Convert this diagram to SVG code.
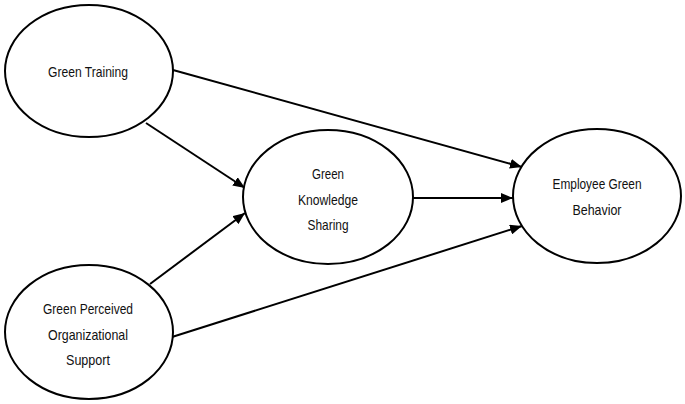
<svg xmlns="http://www.w3.org/2000/svg" width="685" height="404" viewBox="0 0 685 404">
<style>
.node{fill:#fff;stroke:#000;stroke-width:2}
.lbl{font-family:"Liberation Sans",Arial,sans-serif;font-size:15px;fill:#111;text-anchor:middle}
.edge{stroke:#000;stroke-width:2;fill:none;marker-end:url(#ah)}
</style>
<defs>
<marker id="ah" viewBox="0 0 12 10" refX="12" refY="5" markerWidth="12" markerHeight="10" markerUnits="userSpaceOnUse" orient="auto">
<path d="M0,0 L12,5 L0,10 z" fill="#000"/>
</marker>
</defs>
<g id="connectors">
<line class="edge" x1="173" y1="70" x2="522" y2="167"/>
<line class="edge" x1="146" y1="123" x2="245" y2="188"/>
<line class="edge" x1="150" y1="284" x2="245" y2="213"/>
<line class="edge" x1="172" y1="337" x2="522" y2="226"/>
<line class="edge" x1="412" y1="198" x2="513" y2="198"/>
</g>
<g id="green-training">
<ellipse class="node" cx="89" cy="71" rx="84" ry="66"/>
<text class="lbl" x="88" y="77" textLength="80" lengthAdjust="spacingAndGlyphs">Green Training</text>
</g>
<g id="green-perceived-organizational-support">
<ellipse class="node" cx="89" cy="332" rx="84" ry="67"/>
<text class="lbl" x="88" y="314" textLength="90" lengthAdjust="spacingAndGlyphs">Green Perceived</text>
<text class="lbl" x="88" y="340" textLength="80" lengthAdjust="spacingAndGlyphs">Organizational</text>
<text class="lbl" x="88" y="365" textLength="44" lengthAdjust="spacingAndGlyphs">Support</text>
</g>
<g id="green-knowledge-sharing">
<ellipse class="node" cx="328" cy="197" rx="85" ry="67"/>
<text class="lbl" x="328" y="179" textLength="32" lengthAdjust="spacingAndGlyphs">Green</text>
<text class="lbl" x="328" y="205" textLength="60" lengthAdjust="spacingAndGlyphs">Knowledge</text>
<text class="lbl" x="328" y="230" textLength="41" lengthAdjust="spacingAndGlyphs">Sharing</text>
</g>
<g id="employee-green-behavior">
<ellipse class="node" cx="597" cy="196" rx="84" ry="67"/>
<text class="lbl" x="597" y="189" textLength="89" lengthAdjust="spacingAndGlyphs">Employee Green</text>
<text class="lbl" x="597" y="215" textLength="49" lengthAdjust="spacingAndGlyphs">Behavior</text>
</g>
</svg>
